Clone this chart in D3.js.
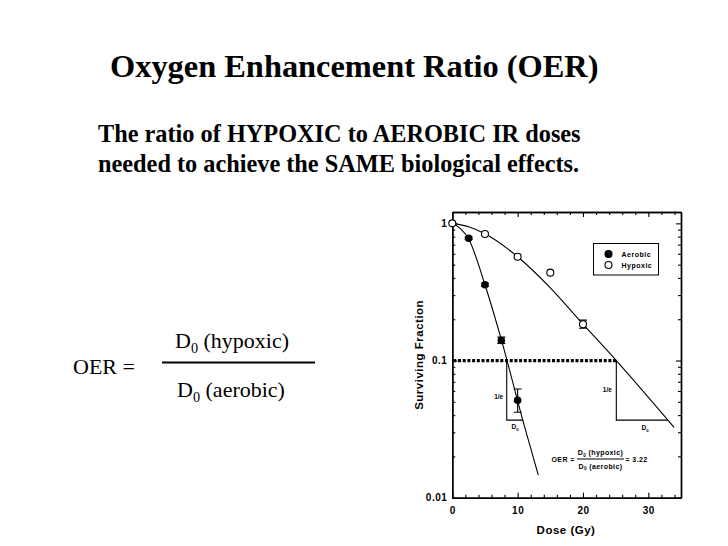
<!DOCTYPE html>
<html>
<head>
<meta charset="utf-8">
<script src="https://cdn.jsdelivr.net/npm/d3@7"></script>
<style>
  body { margin: 0; background: white; }
  text { fill: black; }
</style>
</head>
<body>
<div id="container"></div>
<script>
let w = 728;
let h = 546;

// DATA
let aerobicDose = [2.5, 5, 7.5, 10];
let aerobicSF   = [0.778, 0.357, 0.14, 0.0513];
let aerobicLo   = [0.762, 0.348, 0.133, 0.042];
let aerobicHi   = [0.795, 0.366, 0.148, 0.062];

let hypoxicDose = [0, 5, 10, 15, 20];
let hypoxicSF   = [1, 0.836, 0.571, 0.437, 0.184];
let hypoxicLo   = [1, 0.836, 0.571, 0.437, 0.172];
let hypoxicHi   = [1, 0.836, 0.571, 0.437, 0.197];

// fitted curves
let aerobicCurveDose = [0, 1.2, 2.45, 5.0, 7.56, 10.78, 13.16];
let aerobicCurveSF   = [1, 0.92, 0.778, 0.357, 0.139, 0.0368, 0.0146];
let hypoxicCurveDose = [0, 2.5, 5, 10, 15, 20, 25.1, 33.94];
let hypoxicCurveSF   = [1, 0.945, 0.84, 0.571, 0.339, 0.1845, 0.1, 0.0326];

// D0 construction
let refSF = 0.1;
let d0Start = [8.33, 25.1];
let d0Width = [2.54, 7.85];

let xMajor = [0, 10, 20, 30];
let xMinor = [2, 4, 6, 8, 12, 14, 16, 18, 22, 24, 26, 28, 32, 34];
let yMajor = [0.01, 0.1, 1];
let yMinor = [0.02, 0.03, 0.04, 0.05, 0.06, 0.07, 0.08, 0.09,
              0.2, 0.3, 0.4, 0.5, 0.6, 0.7, 0.8, 0.9];

let legendNames = ["Aerobic", "Hypoxic"];

// SVG
let viz = d3.select("#container").append("svg")
    .attr("width", w)
    .attr("height", h)
    .style("background-color", "white");

let sans = "'Liberation Sans', Arial, sans-serif";
let serif = "'Liberation Serif', 'Times New Roman', serif";

// HEADINGS
viz.append("text")
    .attr("x", 110).attr("y", 77)
    .style("font-family", serif).style("font-weight", "bold").style("font-size", "32.4px")
    .text("Oxygen Enhancement Ratio (OER)");

viz.append("text")
    .attr("x", 98).attr("y", 142)
    .style("font-family", serif).style("font-weight", "bold").style("font-size", "24.3px")
    .text("The ratio of HYPOXIC to AEROBIC IR doses");
viz.append("text")
    .attr("x", 98).attr("y", 172)
    .style("font-family", serif).style("font-weight", "bold").style("font-size", "24.3px")
    .text("needed to achieve the SAME biological effects.");

// big OER formula
viz.append("text")
    .attr("x", 73).attr("y", 374)
    .style("font-family", serif).style("font-size", "22px")
    .text("OER =");

function dZero(sel, x, y, rest, size, family, weight, anchor, spacing) {
  let t = sel.append("text")
      .attr("x", x).attr("y", y)
      .attr("text-anchor", anchor || "start")
      .style("font-family", family).style("font-size", size + "px")
      .style("font-weight", weight || "normal")
      .style("letter-spacing", (spacing || 0) + "px");
  t.append("tspan").text("D");
  t.append("tspan").attr("dy", size * 0.22).style("font-size", (size * 0.65) + "px").text("0");
  t.append("tspan").attr("dy", -size * 0.22).text(rest);
  return t;
}

dZero(viz, 175, 348, " (hypoxic)", 22, serif);
viz.append("line")
    .attr("x1", 162).attr("x2", 315).attr("y1", 362.5).attr("y2", 362.5)
    .attr("stroke", "black").attr("stroke-width", 2);
dZero(viz, 177, 397, " (aerobic)", 22, serif);

// CHART
let x = d3.scaleLinear().domain([0, 35]).range([452.3, 681]);
let y = d3.scaleLog().domain([0.01, 1.21]).range([497.7, 212]);

let chart = viz.append("g");

function styleAxis(g) {
  g.select(".domain").attr("stroke-width", 1.4);
  g.selectAll(".tick line").attr("stroke-width", 1.1);
  g.selectAll(".tick text")
      .style("font-family", sans).style("font-weight", "bold")
      .style("font-size", "10px").style("letter-spacing", "0.5px");
}

// bottom
chart.append("g").attr("transform", "translate(0," + y.range()[0] + ")")
    .call(d3.axisBottom(x).tickValues(xMajor).tickSizeInner(-5).tickSizeOuter(0).tickPadding(9)
      .tickFormat(d3.format("d")))
    .call(styleAxis);
chart.append("g").attr("transform", "translate(0," + y.range()[0] + ")")
    .call(d3.axisBottom(x).tickValues(xMinor).tickSizeInner(-3).tickSizeOuter(0).tickFormat(""))
    .call(styleAxis);
// top
chart.append("g").attr("transform", "translate(0," + y.range()[1] + ")")
    .call(d3.axisTop(x).tickValues(xMajor).tickSizeInner(-5).tickSizeOuter(0).tickFormat(""))
    .call(styleAxis);
chart.append("g").attr("transform", "translate(0," + y.range()[1] + ")")
    .call(d3.axisTop(x).tickValues(xMinor).tickSizeInner(-3).tickSizeOuter(0).tickFormat(""))
    .call(styleAxis);
// left
chart.append("g").attr("transform", "translate(" + x.range()[0] + ",0)")
    .call(d3.axisLeft(y).tickValues(yMajor).tickSizeInner(-5).tickSizeOuter(0).tickPadding(5)
      .tickFormat(d => String(d)))
    .call(styleAxis);
chart.append("g").attr("transform", "translate(" + x.range()[0] + ",0)")
    .call(d3.axisLeft(y).tickValues(yMinor).tickSizeInner(-3).tickSizeOuter(0).tickFormat(""))
    .call(styleAxis);
// right
chart.append("g").attr("transform", "translate(" + x.range()[1] + ",0)")
    .call(d3.axisRight(y).tickValues(yMajor).tickSizeInner(-5).tickSizeOuter(0).tickFormat(""))
    .call(styleAxis);
chart.append("g").attr("transform", "translate(" + x.range()[1] + ",0)")
    .call(d3.axisRight(y).tickValues(yMinor).tickSizeInner(-3).tickSizeOuter(0).tickFormat(""))
    .call(styleAxis);

// axis titles
chart.append("text")
    .attr("x", 566).attr("y", 534)
    .attr("text-anchor", "middle")
    .style("font-family", sans).style("font-weight", "bold").style("font-size", "11.5px")
    .style("letter-spacing", "0.5px")
    .text("Dose (Gy)");
chart.append("text")
    .attr("transform", "translate(423," + ((y.range()[0] + y.range()[1]) / 2) + ") rotate(-90)")
    .attr("text-anchor", "middle")
    .style("font-family", sans).style("font-weight", "bold").style("font-size", "11.5px")
    .style("letter-spacing", "0.5px")
    .text("Surviving Fraction");

// CURVES
let lineMaker = d3.line().x(d => x(d[0])).y(d => y(d[1])).curve(d3.curveMonotoneX);
chart.append("path")
    .attr("d", lineMaker(d3.zip(aerobicCurveDose, aerobicCurveSF)))
    .attr("fill", "none").attr("stroke", "black").attr("stroke-width", 1.1);
chart.append("path")
    .attr("d", lineMaker(d3.zip(hypoxicCurveDose, hypoxicCurveSF)))
    .attr("fill", "none").attr("stroke", "black").attr("stroke-width", 1.1);

// dotted reference line at SF 0.1
chart.append("line")
    .attr("x1", x(0) + 1).attr("x2", x(d0Start[1]))
    .attr("y1", y(refSF)).attr("y2", y(refSF))
    .attr("stroke", "black").attr("stroke-width", 3.3)
    .attr("stroke-dasharray", "3,1.7");

// D0 triangles
d0Start.forEach((s, i) => {
  let lowSF = refSF / Math.E;
  chart.append("path")
      .attr("d", "M" + x(s) + "," + y(refSF) + "V" + y(lowSF) + "H" + x(s + d0Width[i]))
      .attr("fill", "none").attr("stroke", "black").attr("stroke-width", 1.1);
});

function smallLabel(px, py, txt) {
  chart.append("text")
      .attr("x", px).attr("y", py)
      .attr("text-anchor", "middle").attr("dominant-baseline", "central")
      .style("font-family", sans).style("font-weight", "bold").style("font-size", "6.5px")
      .text(txt);
}
let midSF = refSF / Math.sqrt(Math.E);
smallLabel(x(d0Start[0]) - 8, y(midSF) + 6, "1/e");
smallLabel(x(d0Start[1]) - 9, y(midSF) - 1, "1/e");
dZero(chart, x(d0Start[0] + d0Width[0] * 0.5), y(refSF / Math.E) + 9, "", 6.5, sans, "bold", "middle");
dZero(chart, x(d0Start[1] + d0Width[1] * 0.56), y(refSF / Math.E) + 10, "", 6.5, sans, "bold", "middle");

// ERROR BARS
function errorBars(dose, lo, hi) {
  dose.forEach((d, i) => {
    if (lo[i] == hi[i]) return;
    let cx = x(d);
    chart.append("path")
        .attr("d", "M" + cx + "," + y(lo[i]) + "V" + y(hi[i]) +
                   "M" + (cx - 4) + "," + y(lo[i]) + "H" + (cx + 4) +
                   "M" + (cx - 4) + "," + y(hi[i]) + "H" + (cx + 4))
        .attr("fill", "none").attr("stroke", "black").attr("stroke-width", 1.1);
  });
}
errorBars(aerobicDose, aerobicLo, aerobicHi);
errorBars(hypoxicDose, hypoxicLo, hypoxicHi);

// POINTS
chart.selectAll(".aerobic").data(d3.zip(aerobicDose, aerobicSF)).enter()
  .append("circle")
    .attr("class", "aerobic")
    .attr("cx", d => x(d[0])).attr("cy", d => y(d[1]))
    .attr("r", 3.8).attr("fill", "black");
chart.selectAll(".hypoxic").data(d3.zip(hypoxicDose, hypoxicSF)).enter()
  .append("circle")
    .attr("class", "hypoxic")
    .attr("cx", d => x(d[0])).attr("cy", d => y(d[1]))
    .attr("r", 3.5).attr("fill", "white").attr("stroke", "black").attr("stroke-width", 1.1);

// LEGEND
let legend = chart.append("g").attr("transform", "translate(593.5,243.5)");
legend.append("rect")
    .attr("width", 65).attr("height", 31.5)
    .attr("fill", "white").attr("stroke", "black").attr("stroke-width", 1);
legendNames.forEach((name, i) => {
  legend.append("circle")
      .attr("cx", 15).attr("cy", 10.5 + i * 11)
      .attr("r", 3.5)
      .attr("fill", i == 0 ? "black" : "white")
      .attr("stroke", "black").attr("stroke-width", 1.1);
  legend.append("text")
      .attr("x", 28).attr("y", 10.5 + i * 11)
      .attr("dominant-baseline", "central")
      .style("font-family", sans).style("font-weight", "bold").style("font-size", "7px")
      .style("letter-spacing", "0.5px")
      .text(name);
});

// OER formula inside chart
let fy = 459;
chart.append("text")
    .attr("x", 551.5).attr("y", fy).attr("dominant-baseline", "central")
    .style("font-family", sans).style("font-weight", "bold").style("font-size", "7px")
    .style("letter-spacing", "0.4px")
    .text("OER =");
dZero(chart, 600.5, fy - 4, " (hypoxic)", 7, sans, "bold", "middle", 0.4);
chart.append("line")
    .attr("x1", 577).attr("x2", 624).attr("y1", fy).attr("y2", fy)
    .attr("stroke", "black").attr("stroke-width", 1);
dZero(chart, 600.5, fy + 9.5, " (aerobic)", 7, sans, "bold", "middle", 0.4);
chart.append("text")
    .attr("x", 625.5).attr("y", fy + 0.5).attr("dominant-baseline", "central")
    .style("font-family", sans).style("font-weight", "bold").style("font-size", "7px")
    .style("letter-spacing", "0.4px")
    .text("= 3.22");
</script>
</body>
</html>
